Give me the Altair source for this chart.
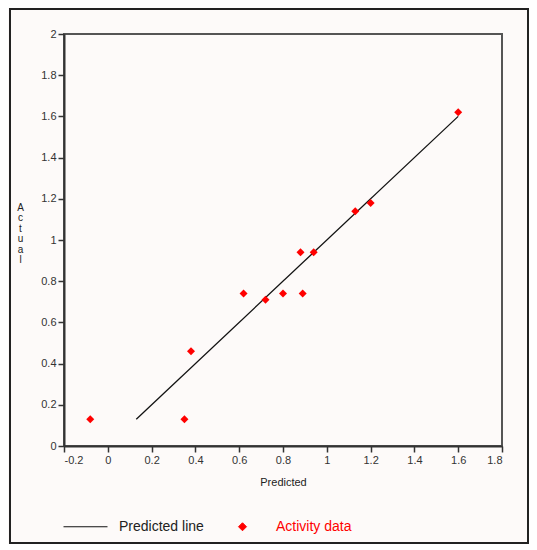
import altair as alt
import pandas as pd

# ---- data ----
predicted = [-0.08, 0.35, 0.38, 0.62, 0.72, 0.80, 0.89, 0.88, 0.94, 1.13, 1.20, 1.60]
actual = [0.13, 0.13, 0.46, 0.74, 0.71, 0.74, 0.74, 0.94, 0.94, 1.14, 1.18, 1.62]
line_x = [0.13, 1.60]
line_y = [0.13, 1.60]
series_names = ["Predicted line", "Activity data"]
series_colors = ["#111111", "#ff0000"]
x_ticks = [-0.2, 0.0, 0.2, 0.4, 0.6, 0.8, 1.0, 1.2, 1.4, 1.6, 1.8]
y_ticks = [0.0, 0.2, 0.4, 0.6, 0.8, 1.0, 1.2, 1.4, 1.6, 1.8, 2.0]

pts = pd.DataFrame({"Predicted": predicted, "Actual": actual, "series": series_names[1]})
ln = pd.DataFrame({"Predicted": line_x, "Actual": line_y, "series": series_names[0]})
frame_df = pd.DataFrame({"a": [0]})

FONT = "Liberation Sans"
sel = "datum.label === 'Activity data'"

legend = alt.Legend(
    title=None,
    orient="none",
    direction="horizontal",
    legendX=-1,
    legendY=470,
    symbolSize={"expr": f"{sel} ? 64 : 1936"},
    symbolType={"expr": f"{sel} ? 'diamond' : 'stroke'"},
    symbolFillColor={"expr": f"{sel} ? '#ff0000' : 'transparent'"},
    symbolStrokeColor={"expr": f"{sel} ? 'transparent' : '#222222'"},
    symbolStrokeWidth=1,
    symbolOpacity=1,
    labelColor={"expr": f"{sel} ? '#ff0000' : '#222222'"},
    labelFont=FONT,
    labelFontSize=14,
    labelOffset=11,
    columnPadding=16,
    padding=0,
)

color = alt.Color(
    "series:N",
    scale=alt.Scale(domain=series_names, range=series_colors),
    legend=legend,
)

x_enc = alt.X(
    "Predicted:Q",
    scale=alt.Scale(domain=[-0.2, 1.8], nice=False, zero=False),
    axis=alt.Axis(
        values=x_ticks,
        labelExpr="toString(round(datum.value*10)/10)",
        title="Predicted",
        titleY=36,
        titleBaseline="middle",
    ),
)
y_enc = alt.Y(
    "Actual:Q",
    scale=alt.Scale(domain=[0, 2], nice=False, zero=False),
    axis=alt.Axis(
        values=y_ticks,
        labelExpr="toString(round(datum.value*10)/10)",
        title=["A", "c", "t", "u", "a", "l"],
        titleAngle=0,
        titleAlign="center",
        titleBaseline="middle",
        titleX=-44,
        titleY=173,
        titleFontSize=10,
        titleLineHeight=10.5,
    ),
)

frame = alt.Chart(frame_df).mark_rect(
    fill="transparent", stroke="#222222", strokeWidth=2
).encode(
    x=alt.value(-54), x2=alt.value(464), y=alt.value(-25), y2=alt.value(509)
)

line = alt.Chart(ln).mark_line(strokeWidth=1.3).encode(x=x_enc, y=y_enc, color=color)
points = alt.Chart(pts).mark_point(shape="diamond", filled=True, size=64, opacity=1).encode(
    x="Predicted:Q", y="Actual:Q", color="series:N"
)

chart = alt.layer(frame, line, points).properties(
    width=438,
    height=412,
    padding={"left": 56, "top": 26, "right": 27, "bottom": 98},
    autosize=alt.AutoSizeParams(type="none"),
    background="#fdfaf9",
).configure_view(
    stroke="#555555", strokeWidth=2, fill="#fdfaf9"
).configure_axis(
    grid=False,
    labelFont=FONT,
    labelFontSize=11,
    labelColor="#333333",
    labelPadding=2,
    titleFont=FONT,
    titleFontSize=11,
    titleFontWeight="normal",
    titleColor="#222222",
    domainColor="#333333",
    domainWidth=2,
    tickColor="#333333",
    tickWidth=1.5,
    tickSize=6,
)

chart.save("out.html", embed_options={"renderer": "svg", "actions": False})
